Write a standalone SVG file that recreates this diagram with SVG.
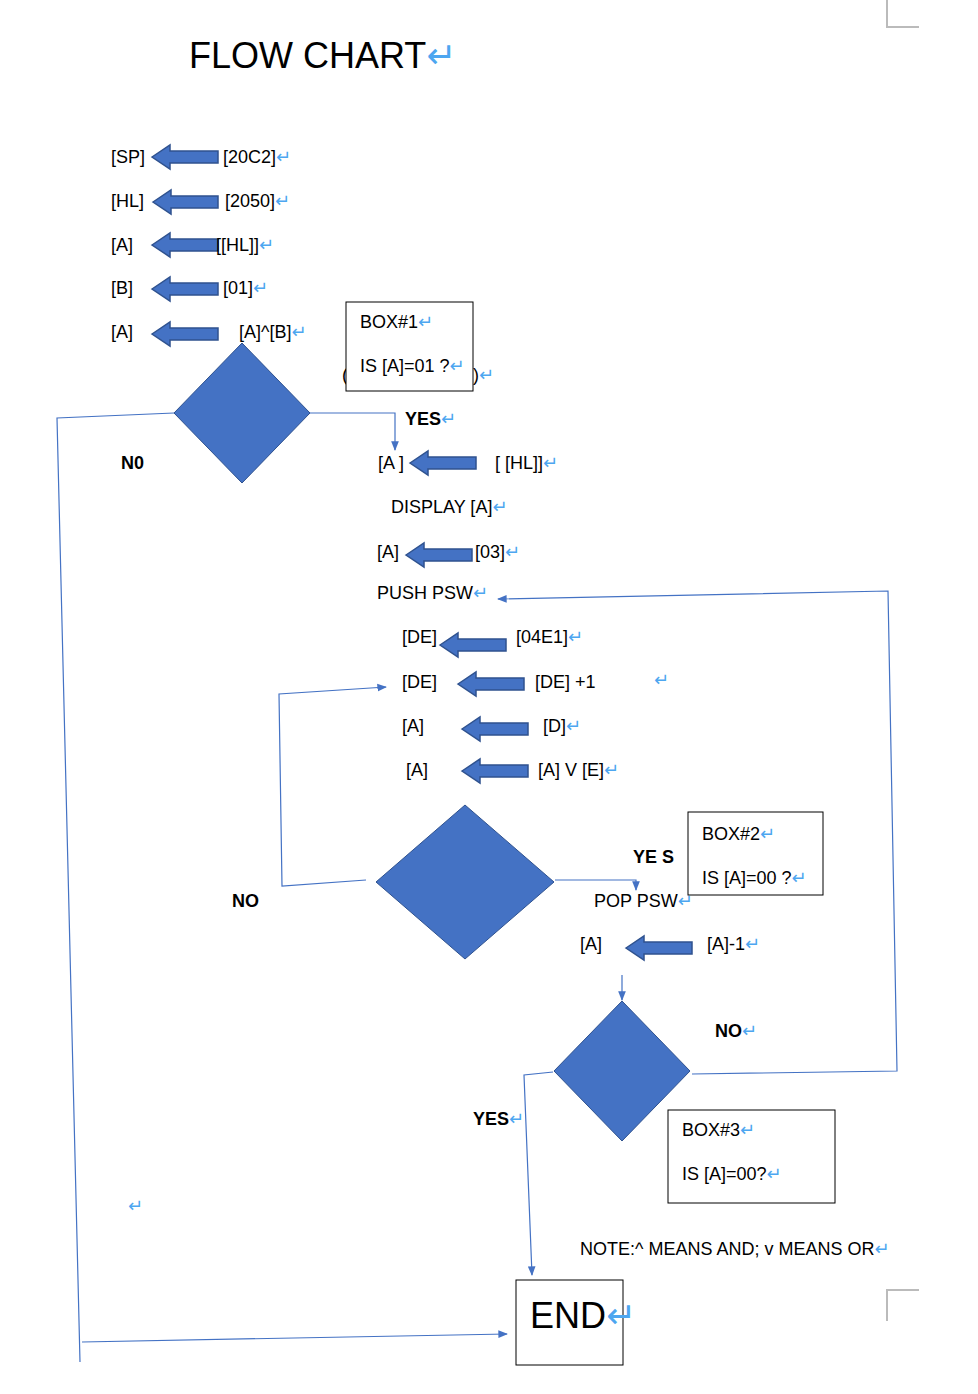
<svg xmlns="http://www.w3.org/2000/svg" width="978" height="1394" viewBox="0 0 978 1394">
<style>
text{font-family:"Liberation Sans","DejaVu Sans",sans-serif;font-size:18px;fill:#000}
.b{font-weight:bold}
.r{fill:#4da6f0}
.ar{fill:#4472C4;stroke:#2F528F;stroke-width:1.5}
.dm{fill:#4472C4;stroke:#2F528F;stroke-width:1}
.ln{fill:none;stroke:#4472C4;stroke-width:1.2}
.bx{fill:#fff;stroke:#000;stroke-width:1}
</style>
<defs>
<marker id="m" viewBox="0 0 10 10" refX="9" refY="5" markerWidth="8" markerHeight="8" orient="auto"><path d="M0,1 L10,5 L0,9 z" fill="#4472C4"/></marker>
</defs>
<rect width="978" height="1394" fill="#fff"/>
<path d="M887,0 V27 H919 M887,1321 V1290 H919" fill="none" stroke="#bbb" stroke-width="2"/>
<text x="189" y="68" style="font-size:36px">FLOW CHART<tspan class="r">↵</tspan></text>
<g id="arrows">
<path class="ar" d="M152,157 l18,-12 v6 h48 v12 h-48 v6 z"/>
<path class="ar" d="M153,202 l18,-12 v6 h47 v12 h-47 v6 z"/>
<path class="ar" d="M152,245 l18,-12 v6 h48 v12 h-48 v6 z"/>
<path class="ar" d="M152,289 l18,-12 v6 h48 v12 h-48 v6 z"/>
<path class="ar" d="M152,334 l18,-12 v6 h48 v12 h-48 v6 z"/>
<path class="ar" d="M410,463 l18,-12 v6 h48 v12 h-48 v6 z"/>
<path class="ar" d="M406,555 l18,-12 v6 h48 v12 h-48 v6 z"/>
<path class="ar" d="M440,645 l18,-12 v6 h48 v12 h-48 v6 z"/>
<path class="ar" d="M458,684 l18,-12 v6 h48 v12 h-48 v6 z"/>
<path class="ar" d="M462,729 l18,-12 v6 h48 v12 h-48 v6 z"/>
<path class="ar" d="M462,771 l18,-12 v6 h48 v12 h-48 v6 z"/>
<path class="ar" d="M626,948 l18,-12 v6 h48 v12 h-48 v6 z"/>
</g>
<g id="labels">
<text x="111" y="163">[SP]</text><text x="223" y="163">[20C2]<tspan class="r">↵</tspan></text>
<text x="111" y="207">[HL]</text><text x="225" y="207">[2050]<tspan class="r">↵</tspan></text>
<text x="111" y="251">[A]</text><text x="216" y="251">[[HL]]<tspan class="r">↵</tspan></text>
<text x="111" y="294">[B]</text><text x="223" y="294">[01]<tspan class="r">↵</tspan></text>
<text x="111" y="338">[A]</text><text x="239" y="338">[A]^[B]<tspan class="r">↵</tspan></text>
<text x="342" y="381">(</text><text x="473" y="381">)<tspan class="r">↵</tspan></text>
<text x="378" y="469">[A ]</text><text x="495" y="469">[ [HL]]<tspan class="r">↵</tspan></text>
<text x="391" y="513">DISPLAY [A]<tspan class="r">↵</tspan></text>
<text x="377" y="558">[A]</text><text x="475" y="558">[03]<tspan class="r">↵</tspan></text>
<text x="377" y="599">PUSH PSW<tspan class="r">↵</tspan></text>
<text x="402" y="643">[DE]</text><text x="516" y="643">[04E1]<tspan class="r">↵</tspan></text>
<text x="402" y="688">[DE]</text><text x="535" y="688">[DE] +1</text><text class="r" x="654" y="686">↵</text>
<text x="402" y="732">[A]</text><text x="543" y="732">[D]<tspan class="r">↵</tspan></text>
<text x="406" y="776">[A]</text><text x="538" y="776">[A] V [E]<tspan class="r">↵</tspan></text>
<text x="594" y="907">POP PSW<tspan class="r">↵</tspan></text>
<text x="580" y="950">[A]</text><text x="707" y="950">[A]-1<tspan class="r">↵</tspan></text>
<text class="b" x="405" y="425">YES<tspan class="r" style="font-weight:normal">↵</tspan></text>
<text class="b" x="121" y="469">N0</text>
<text class="b" x="232" y="907">NO</text>
<text class="b" x="633" y="863">YE S</text>
<text class="b" x="715" y="1037">NO<tspan class="r" style="font-weight:normal">↵</tspan></text>
<text class="b" x="473" y="1125">YES<tspan class="r" style="font-weight:normal">↵</tspan></text>
<text class="r" x="128" y="1212">↵</text>
<text x="580" y="1255">NOTE:^ MEANS AND; v MEANS OR<tspan class="r">↵</tspan></text>
</g>
<g id="connectors">
<path class="ln" d="M310,413 H395 V450" marker-end="url(#m)"/>
<path class="ln" d="M174,413 L57,418 L80,1362"/>
<path class="ln" d="M82,1342 L507,1334" marker-end="url(#m)"/>
<path class="ln" d="M366,880 L282,886 L279,694 L386,687" marker-end="url(#m)"/>
<path class="ln" d="M555,880 H636 V890" marker-end="url(#m)"/>
<path class="ln" d="M622,975 V1000" marker-end="url(#m)"/>
<path class="ln" d="M692,1074 L897,1071 L888,591 L498,599" marker-end="url(#m)"/>
<path class="ln" d="M553,1072 L524,1075 L532,1275" marker-end="url(#m)"/>
</g>
<g id="d1"><path class="dm" d="M242,343 L310,413 L242,483 L174,413 z"/></g>
<g id="d2"><path class="dm" d="M465,805 L554,882 L465,959 L376,882 z"/></g>
<g id="d3"><path class="dm" d="M622,1001 L690,1071 L622,1141 L554,1071 z"/></g>
<g id="box1"><rect class="bx" x="346" y="302" width="127" height="89"/>
<text x="360" y="328">BOX#1<tspan class="r">↵</tspan></text><text x="360" y="372">IS [A]=01  ?<tspan class="r">↵</tspan></text></g>
<g id="box2"><rect class="bx" x="688" y="812" width="135" height="83"/>
<text x="702" y="840">BOX#2<tspan class="r">↵</tspan></text><text x="702" y="884">IS [A]=00 ?<tspan class="r">↵</tspan></text></g>
<g id="box3"><rect class="bx" x="668" y="1110" width="167" height="93"/>
<text x="682" y="1136">BOX#3<tspan class="r">↵</tspan></text><text x="682" y="1180">IS [A]=00?<tspan class="r">↵</tspan></text></g>
<g id="end"><rect class="bx" x="516" y="1280" width="107" height="85"/>
<text x="530" y="1328" style="font-size:36px">END<tspan class="r">↵</tspan></text></g>
</svg>
